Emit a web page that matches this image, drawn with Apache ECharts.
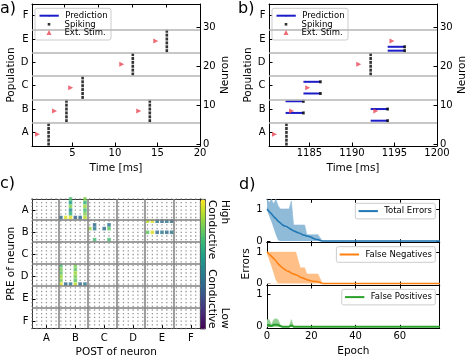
<!DOCTYPE html>
<html><head><meta charset="utf-8">
<script src="https://cdn.jsdelivr.net/npm/echarts@6/dist/echarts.min.js"></script>
<style>html,body{margin:0;padding:0;background:#fff}#c{width:474px;height:362px}</style>
</head><body><div id="c"></div>
<script>
// ================= DATA =================
const popLabels = ['A', 'B', 'C', 'D', 'E', 'F'];
const neuronsPerPop = 6;
const popTickNeurons = [3, 9, 15, 21, 27, 33];
const popBoundaries = [5.5, 11.5, 17.5, 23.5, 29.5];
const neuronTicks = [0, 10, 20, 30];

// ---- panel a (early) ----
const aTimeTicks = [5, 10, 15, 20];
const aTopTicks = [4, 8, 12, 16];
const aSpikeTimes = [2.2, 4.3, 6.2, 12.1, 14.1, 16.1];
const aSpikePops  = [0, 1, 2, 3, 1, 4];
const aStimTimes   = [0.9, 2.9, 4.8, 10.8, 12.8, 14.8];
const aStimNeurons = [2.5, 8.5, 14.5, 20.5, 8.5, 26.5];

// ---- panel b (trained) ----
const bTimeTicks = [1185, 1190, 1195, 1200];
const bPopSpikeTimes = [1182.3, 1192.2];
const bPopSpikePops  = [0, 3];
const bSpikeTimes   = [1184.3, 1184.3, 1186.3, 1186.3, 1194.2, 1194.2, 1196.2, 1196.2];
const bSpikeNeurons = [8, 11, 13, 16, 6, 9, 24, 25];
const bPredStart    = [1182.2, 1182.2, 1184.3, 1184.3, 1192.2, 1192.2, 1194.2, 1194.2];
const bStimTimes   = [1180.9, 1182.9, 1184.8, 1190.8, 1192.8, 1194.7];
const bStimNeurons = [2.5, 8.5, 14.5, 20.5, 8.5, 26.5];

// ---- panel c : conductances [pre, post, value 0..1] ----
const conductances = [
  [0,8,0.7],[1,8,0.55],[2,8,0.8],[3,8,0.5],[4,8,0.65],[5,8,0.95],
  [0,11,0.8],[1,11,0.65],[2,11,0.85],[3,11,0.7],[4,11,0.8],[5,11,0.9],
  [5,6,0.35],[5,7,0.95],[5,9,0.3],[5,10,0.35],
  [18,6,0.7],[19,6,0.8],[20,6,0.75],[21,6,0.85],[22,6,0.8],[23,6,0.95],
  [18,9,0.8],[19,9,0.75],[20,9,0.85],[21,9,0.8],[22,9,0.75],[23,9,0.9],
  [23,7,0.35],[23,8,0.4],[23,10,0.35],[23,11,0.4],
  [7,13,0.35],[7,16,0.4],
  [8,12,0.85],[8,13,0.4],[8,15,0.35],[8,16,0.75],
  [11,13,0.7],[11,16,0.7],
  [6,24,0.9],[6,25,0.95],[6,26,0.4],[6,27,0.35],[6,28,0.4],[6,29,0.35],
  [9,24,0.75],[9,25,0.95],[9,26,0.35],[9,27,0.4],[9,28,0.35],[9,29,0.4]
];

// ---- panel d : errors per epoch (0..78) ----
const epochTicks = [0, 20, 40, 60];
const totalMean = [
  1.0,0.92,0.85,0.76,0.7,0.62,0.57,0.5,0.47,0.45,
  0.4,0.36,0.32,0.29,0.26,0.24,0.2,0.18,0.16,0.14,
  0.12,0.08,0.06,0.05,0.02,0,0,0,0,0,
  0,0,0,0,0,0,0,0,0,0,
  0,0,0,0,0,0,0,0,0,0,
  0,0,0,0,0,0,0,0,0,0,
  0,0,0,0,0,0,0,0,0,0,
  0,0,0,0,0,0,0,0,0];
const totalUpper = [
  1.3,1.2,1.3,1.15,1.3,1.1,1.0,1.0,1.0,1.0,
  1.0,1.25,0.5,0.5,0.5,0.5,0.5,0.5,0.2,0.2,
  0.2,0.2,0.2,0.2,0.1,0,0,0,0,0,
  0,0,0,0,0,0,0,0,0,0,
  0,0,0,0,0,0,0,0,0,0,
  0,0,0,0,0,0,0,0,0,0,
  0,0,0,0,0,0,0,0,0,0,
  0,0,0,0,0,0,0,0,0];
const totalLower = [
  0.95,0.77,0.6,0.4,0.2,0.03,0,0,0,0,
  0,0,0,0,0,0,0,0,0,0,
  0,0,0,0,0,0,0,0,0,0,
  0,0,0,0,0,0,0,0,0,0,
  0,0,0,0,0,0,0,0,0,0,
  0,0,0,0,0,0,0,0,0,0,
  0,0,0,0,0,0,0,0,0,0,
  0,0,0,0,0,0,0,0,0];
const fnMean = [
  1.0,0.93,0.87,0.8,0.72,0.63,0.56,0.5,0.45,0.4,
  0.38,0.33,0.3,0.28,0.25,0.2,0.18,0.15,0.12,0.1,
  0.08,0.07,0.06,0.05,0.03,0,0,0,0,0,
  0,0,0,0,0,0,0,0,0,0,
  0,0,0,0,0,0,0,0,0,0,
  0,0,0,0,0,0,0,0,0,0,
  0,0,0,0,0,0,0,0,0,0,
  0,0,0,0,0,0,0,0,0];
const fnUpper = [
  1,1,1,1,1,1,1,1,1,1,
  1,1,1,1,0.75,0.5,0.5,0.5,0.3,0.3,
  0.3,0.3,0.3,0.3,0.15,0,0,0,0,0,
  0,0,0,0,0,0,0,0,0,0,
  0,0,0,0,0,0,0,0,0,0,
  0,0,0,0,0,0,0,0,0,0,
  0,0,0,0,0,0,0,0,0,0,
  0,0,0,0,0,0,0,0,0];
const fnLower = [
  0.95,0.75,0.55,0.32,0.1,0,0,0,0,0,
  0,0,0,0,0,0,0,0,0,0,
  0,0,0,0,0,0,0,0,0,0,
  0,0,0,0,0,0,0,0,0,0,
  0,0,0,0,0,0,0,0,0,0,
  0,0,0,0,0,0,0,0,0,0,
  0,0,0,0,0,0,0,0,0,0,
  0,0,0,0,0,0,0,0,0];
const fpMean = [
  0.05,0.05,0.02,0.06,0.06,0.06,0.02,0,0,0,
  0,0.04,0,0,0,0,0,0,0,0,
  0,0,0,0,0,0,0,0,0,0,
  0,0,0,0,0,0,0,0,0,0,
  0,0,0,0,0,0,0,0,0,0,
  0,0,0,0,0,0,0,0,0,0,
  0,0,0,0,0,0,0,0,0,0,
  0,0,0,0,0,0,0,0,0];
const fpUpper = [
  0.22,0.22,0.05,0.22,0.25,0.22,0.05,0,0,0,
  0,0.22,0,0,0,0,0,0,0,0,
  0,0,0,0,0,0,0,0,0,0,
  0,0,0,0,0,0,0,0,0,0,
  0,0,0,0,0,0,0,0,0,0,
  0,0,0,0,0,0,0,0,0,0,
  0,0,0,0,0,0,0,0,0,0,
  0,0,0,0,0,0,0,0,0];

// ================= STYLE =================
const FONT = 'DejaVu Sans';
const VIRIDIS = ['#440154','#482878','#3e4989','#31688e','#26828e','#1f9e89','#35b779','#6ece58','#b5de2b','#fde725'];
const popFmt = v => popLabels[popTickNeurons.indexOf(Math.round(v))] || '';
const numFmt = v => String(v);

function axis(o) {
  const ax = {
    type: 'value', gridIndex: o.grid, position: o.pos, min: o.min, max: o.max,
    inverse: !!o.inverse,
    axisLine: {show: true, onZero: false, lineStyle: {color: o.lineColor || '#000', width: 1}},
    axisTick: {show: !!o.ticks, inside: true, length: 3.5, lineStyle: {color: '#000', width: 1}},
    axisLabel: {show: !!o.labels, margin: o.margin == null ? 3 : o.margin, fontFamily: FONT, fontSize: 10, color: '#000',
      formatter: o.fmt || numFmt},
    splitLine: {show: false}
  };
  if (o.ticks) ax.axisTick.customValues = o.ticks;
  if (o.labels) ax.axisLabel.customValues = o.labels;
  if (o.name) {
    ax.name = o.name; ax.nameLocation = 'middle'; ax.nameGap = o.nameGap;
    ax.nameTextStyle = {fontFamily: FONT, fontSize: 10.5, color: '#000'};
    if (o.nameRotate != null) ax.nameRotate = o.nameRotate;
  }
  return ax;
}

const grids = [
  {left: 32, top: 4, width: 168, height: 142},
  {left: 269, top: 4, width: 168, height: 142},
  {left: 32, top: 199, width: 168.5, height: 129.5},
  {left: 267, top: 199.3, width: 172.7, height: 43.4},
  {left: 267, top: 242.7, width: 172.7, height: 42.3},
  {left: 267, top: 285, width: 172.7, height: 43.3}
].map(g => Object.assign(g, {containLabel: false, outerBoundsMode: 'none'}));

const xAxes = [
  axis({grid:0, pos:'bottom', min:0.25, max:20, ticks:aTimeTicks, labels:aTimeTicks, margin:2, name:'Time [ms]', nameGap:17}),
  axis({grid:0, pos:'top', min:0.25, max:20, ticks:aTopTicks}),
  axis({grid:1, pos:'bottom', min:1180.25, max:1200, ticks:bTimeTicks, labels:bTimeTicks, margin:2, name:'Time [ms]', nameGap:17}),
  axis({grid:1, pos:'top', min:1180.25, max:1200}),
  axis({grid:2, pos:'bottom', min:0, max:35, ticks:popTickNeurons, labels:popTickNeurons, fmt:popFmt, margin:5, name:'POST of neuron', nameGap:18, lineColor:'#333'}),
  axis({grid:2, pos:'top', min:0, max:35, lineColor:'#333'}),
  axis({grid:3, pos:'bottom', min:0, max:78, ticks:epochTicks}),
  axis({grid:3, pos:'top', min:0, max:78, ticks:epochTicks}),
  axis({grid:4, pos:'bottom', min:0, max:78, ticks:epochTicks}),
  axis({grid:4, pos:'top', min:0, max:78, ticks:epochTicks}),
  axis({grid:5, pos:'bottom', min:0, max:78, ticks:epochTicks, labels:epochTicks, margin:3.5, name:'Epoch', nameGap:17}),
  axis({grid:5, pos:'top', min:0, max:78, ticks:epochTicks})
];
const yAxes = [
  axis({grid:0, pos:'left', min:-0.5, max:36, ticks:popTickNeurons, labels:popTickNeurons, fmt:popFmt, margin:3.5, name:'Population', nameGap:15, nameRotate:90}),
  axis({grid:0, pos:'right', min:-0.5, max:36, ticks:neuronTicks, labels:neuronTicks, margin:3, name:'Neuron', nameGap:20, nameRotate:90}),
  axis({grid:1, pos:'left', min:-0.5, max:36, ticks:popTickNeurons, labels:popTickNeurons, fmt:popFmt, margin:3.5, name:'Population', nameGap:15, nameRotate:90}),
  axis({grid:1, pos:'right', min:-0.5, max:36, ticks:neuronTicks, labels:neuronTicks, margin:3, name:'Neuron', nameGap:20, nameRotate:90}),
  axis({grid:2, pos:'left', min:0, max:35, inverse:true, ticks:popTickNeurons, labels:popTickNeurons, fmt:popFmt, margin:3.5, name:'PRE of neuron', nameGap:15, nameRotate:90, lineColor:'#333'}),
  axis({grid:2, pos:'right', min:0, max:35, inverse:true, lineColor:'#333'}),
  axis({grid:3, pos:'left', min:-0.05, max:1.3, ticks:[0,1], labels:[0,1], margin:4.5}),
  axis({grid:3, pos:'right', min:-0.05, max:1.3, ticks:[0,1]}),
  axis({grid:4, pos:'left', min:-0.05, max:1.3, ticks:[0,1], labels:[0,1], margin:4.5, name:'Errors', nameGap:13.5, nameRotate:90}),
  axis({grid:4, pos:'right', min:-0.05, max:1.3, ticks:[0,1]}),
  axis({grid:5, pos:'left', min:-0.05, max:1.3, ticks:[0,1], labels:[0,1], margin:4.5}),
  axis({grid:5, pos:'right', min:-0.05, max:1.3, ticks:[0,1]})
];

// ================= SERIES =================
const series = [];
const BOUND_LINE = {silent: true, symbol: ['none','none'], label: {show: false}, animation: false,
  lineStyle: {color: '#b4b4b4', width: 1.5, type: 'solid'}, data: popBoundaries.map(v => ({yAxis: v}))};
const PRED_COLOR = '#1c1cc8';
const STIM_COLOR = '#ea4653';
const SPIKE_SIZE = [2.6, 3];

function popSpikes(times, pops) {
  const out = [];
  times.forEach((t, k) => { for (let n = 0; n < neuronsPerPop; n++) out.push([t, pops[k] * neuronsPerPop + n]); });
  return out;
}

// panel a
series.push({type:'line', name:'Prediction', xAxisIndex:0, yAxisIndex:0, data:[], symbol:'none',
  lineStyle:{color:PRED_COLOR, width:2}, itemStyle:{color:PRED_COLOR}, markLine: BOUND_LINE});
series.push({type:'scatter', name:'Spiking', xAxisIndex:0, yAxisIndex:0, symbol:'rect', symbolSize:SPIKE_SIZE,
  itemStyle:{color:'#000'}, data: popSpikes(aSpikeTimes, aSpikePops), z:4});
series.push({type:'scatter', name:'Ext. Stim.', xAxisIndex:0, yAxisIndex:0, symbol:'triangle', symbolRotate:-90, symbolSize:[5,5],
  itemStyle:{color:STIM_COLOR}, data: aStimTimes.map((t,i) => [t, aStimNeurons[i]]), z:4});

// panel b
series.push({type:'line', name:'Prediction', xAxisIndex:2, yAxisIndex:2, data:[], symbol:'none',
  lineStyle:{color:PRED_COLOR, width:2}, itemStyle:{color:PRED_COLOR}, markLine: BOUND_LINE});
bSpikeNeurons.forEach((n, i) => {
  series.push({type:'line', name:'Prediction', xAxisIndex:2, yAxisIndex:2, symbol:'none', z:3,
    lineStyle:{color:PRED_COLOR, width:2}, itemStyle:{color:PRED_COLOR},
    data: [[bPredStart[i], n], [bSpikeTimes[i], n]]});
});
series.push({type:'scatter', name:'Spiking', xAxisIndex:2, yAxisIndex:2, symbol:'rect', symbolSize:SPIKE_SIZE,
  itemStyle:{color:'#000'}, z:4,
  data: popSpikes(bPopSpikeTimes, bPopSpikePops).concat(bSpikeTimes.map((t,i) => [t, bSpikeNeurons[i]]))});
series.push({type:'scatter', name:'Ext. Stim.', xAxisIndex:2, yAxisIndex:2, symbol:'triangle', symbolRotate:-90, symbolSize:[5,5],
  itemStyle:{color:STIM_COLOR}, z:5, data: bStimTimes.map((t,i) => [t, bStimNeurons[i]])});

// panel c
const nNeurons = popLabels.length * neuronsPerPop;
const dotGrid = [];
for (let i = 0; i < nNeurons; i++) for (let j = 0; j < nNeurons; j++) dotGrid.push([j, i]);
series.push({type:'scatter', xAxisIndex:4, yAxisIndex:4, symbol:'rect', symbolSize:1.3, silent:true,
  itemStyle:{color:'#7a7a7a'}, data: dotGrid, z:2,
  markLine: {silent:true, symbol:['none','none'], label:{show:false}, animation:false,
    lineStyle:{color:'#7f7f7f', width:1.5, type:'solid'},
    data: popBoundaries.map(v => ({xAxis: v})).concat(popBoundaries.map(v => ({yAxis: v})))}});
const condSeriesIndex = series.length;
series.push({type:'scatter', xAxisIndex:4, yAxisIndex:4, symbol:'rect', symbolSize:3.6, z:4,
  data: conductances.map(c => [c[1], c[0], c[2]])});

// panel d : band = upper area (colour) covered below the lower bound by a white area
function bandSeries(k, mean, lower, upper, color, fill, name) {
  const xi = 6 + 2 * k, yi = 6 + 2 * k;
  const out = [];
  out.push({type:'line', xAxisIndex:xi, yAxisIndex:yi, symbol:'none', silent:true, z:1,
    lineStyle:{color:fill, width:0.6}, areaStyle:{color:fill, opacity:1, origin:0},
    data: upper.map((v,i) => [i, v])});
  if (lower) {
    out.push({type:'line', xAxisIndex:xi, yAxisIndex:yi, symbol:'none', silent:true, z:1.5,
      lineStyle:{width:0, opacity:0}, areaStyle:{color:'#ffffff', opacity:1, origin:0},
      data: lower.map((v,i) => [i, v])});
  }
  out.push({type:'line', name, xAxisIndex:xi, yAxisIndex:yi, symbol:'none', z:3,
    lineStyle:{color, width: k === 2 ? 2 : 1.5}, itemStyle:{color},
    data: mean.map((v,i) => [i, v])});
  return out;
}
series.push(...bandSeries(0, totalMean, totalLower, totalUpper, '#1f77b4', '#8fbbd9', 'Total Errors'));
series.push(...bandSeries(1, fnMean, fnLower, fnUpper, '#ff7f0e', '#ffbf86', 'False Negatives'));
series.push(...bandSeries(2, fpMean, null, fpUpper, '#2ca02c', '#95cf95', 'False Positives'));

// ================= LEGENDS =================
function leg(name, left, top, iw, ih, padLeft) {
  return {data:[name], left, top, orient:'horizontal', itemWidth:iw, itemHeight:ih, padding:0,
    selectedMode:false, z:6,
    textStyle:{fontFamily:FONT, fontSize:8.5, color:'#000', lineHeight:9, padding:[0,0,0,padLeft]}};
}
function legD(name, top) {
  return {data:[name], right:38.7, top, orient:'horizontal', itemWidth:19.3, itemHeight:1.5,
    padding:[3.3,3.3,3.3,2.3], selectedMode:false, borderColor:'#cccccc', borderWidth:1, borderRadius:2,
    backgroundColor:'rgba(255,255,255,0.85)', z:6,
    textStyle:{fontFamily:FONT, fontSize:8.5, color:'#000', lineHeight:9, padding:[0,0,0,1.4]}};
}
const legends = [];
[0, 237].forEach(dx => {
  legends.push(leg('Prediction', 38.5 + dx, 11.2, 19.3, 2, 1.5));
  legends.push(leg('Spiking', 47.7 + dx, 19.8, 2.6, 2.6, 9.2));
  legends.push(leg('Ext. Stim.', 46.5 + dx, 28, 5, 5, 8));
});
legends.push(legD('Total Errors', 203.3));
legends.push(legD('False Negatives', 246.7));
legends.push(legD('False Positives', 289.3));

// ================= GRAPHIC (frames, panel letters, colorbar text) =================
const txt = (text, x, y, size, extra) => Object.assign({type:'text', x, y, z:10,
  style:Object.assign({text, fontFamily:FONT, fontSize:size, fill:'#000', align:'left', verticalAlign:'top'}, extra || {})});
const graphic = [
  {type:'rect', z:3, shape:{x:35, y:8.3, width:76, height:31.7, r:2}, style:{fill:'rgba(255,255,255,0.85)', stroke:'#cccccc', lineWidth:1}},
  {type:'rect', z:3, shape:{x:272, y:8.3, width:76, height:31.7, r:2}, style:{fill:'rgba(255,255,255,0.85)', stroke:'#cccccc', lineWidth:1}},
  txt('a)', 0, 1, 16), txt('b)', 238, 1, 16), txt('c)', 0, 176, 16), txt('d)', 239, 177, 16),
  Object.assign(txt('High\nConductive', 231.5, 200, 10.5, {lineHeight:13, align:'left', verticalAlign:'top'}), {rotation:-Math.PI/2}),
  Object.assign(txt('Low\nConductive', 231.5, 328.5, 10.5, {lineHeight:13, align:'right', verticalAlign:'top'}), {rotation:-Math.PI/2})
];

const option = {
  animation: false,
  backgroundColor: '#fff',
  textStyle: {fontFamily: FONT},
  grid: grids,
  xAxis: xAxes,
  yAxis: yAxes,
  legend: legends,
  visualMap: {type:'continuous', min:0, max:1, seriesIndex:[condSeriesIndex], left:200, top:199,
    itemWidth:5, itemHeight:129.5, calculable:false, hoverLink:false, padding:0, text:null, showLabel:false,
    borderColor:'#000', borderWidth:0.8, inRange:{color:VIRIDIS}, dimension:2},
  graphic: graphic,
  series: series
};
const chart = echarts.init(document.getElementById('c'), null, {renderer:'canvas'});
chart.setOption(option);
</script></body></html>
